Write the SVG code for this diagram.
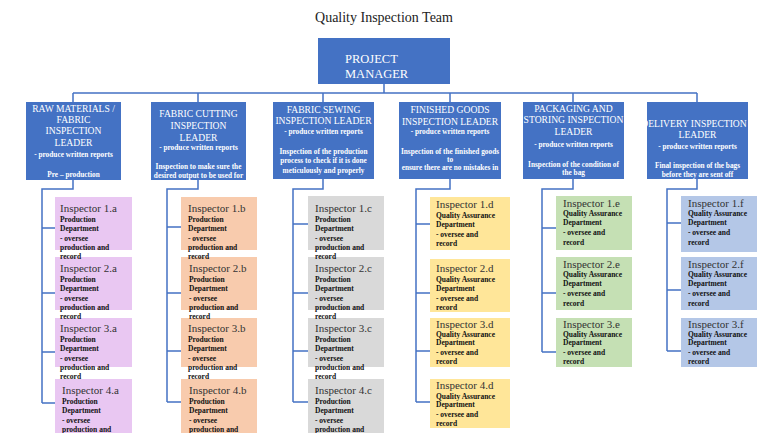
<svg xmlns="http://www.w3.org/2000/svg" width="768" height="433" viewBox="0 0 768 433">
<style>
.bg{fill:#ffffff}
.title{font-family:"Liberation Serif","Times New Roman",serif;font-size:14px;fill:#222}
.lead{fill:#4472C4}
.lh{font-family:"Liberation Serif","Times New Roman",serif;font-size:9.6px;fill:#fff;text-anchor:middle}
.ls{font-family:"Liberation Serif","Times New Roman",serif;font-size:7.3px;font-weight:bold;fill:#fff;text-anchor:middle}
.pm{font-family:"Liberation Serif","Times New Roman",serif;font-size:12.5px;fill:#fff}
.it{font-family:"Liberation Serif","Times New Roman",serif;font-size:11px;fill:#333}
.is{font-family:"Liberation Serif","Times New Roman",serif;font-size:7.5px;font-weight:bold;fill:#111}
.ca{fill:#E9C7F2}.cb{fill:#F8CBAD}.cc{fill:#D9D9D9}.cd{fill:#FFE699}.ce{fill:#C5E0B4}.cf{fill:#B4C7E7}
.con{fill:none;stroke:#4472C4;stroke-width:1.5}
</style>
<defs>
<clipPath id="k1"><rect x="26" y="102" width="95" height="78"/></clipPath>
<clipPath id="k2"><rect x="151" y="102" width="95" height="78"/></clipPath>
<clipPath id="k3"><rect x="273" y="102" width="101" height="77"/></clipPath>
<clipPath id="k4"><rect x="399" y="102" width="102" height="77"/></clipPath>
<clipPath id="k5"><rect x="523" y="102" width="101" height="77"/></clipPath>
<clipPath id="k6"><rect x="647" y="102" width="101" height="77"/></clipPath>
</defs>
<rect class="bg" x="0" y="0" width="768" height="433"/>
<text class="title" x="384" y="22" text-anchor="middle">Quality Inspection Team</text>

<g id="connectors">
<path class="con" d="M384 84V93M73 93H697M73 93V102M198 93V102M323 93V102M450 93V102M573 93V102M697 93V102"/>
<path class="con" d="M73 180V189H42V403M42 228H55M42 293H55M42 352H55M42 403H55"/>
<path class="con" d="M198 180V189H167V402M167 227H181M167 293H181M167 351H181M167 402H181"/>
<path class="con" d="M323 179V189H293V402M293 224H308M293 293H308M293 351H308M293 402H308"/>
<path class="con" d="M450 179V189H416V402M416 224H430M416 293H430M416 351H430M416 402H430"/>
<path class="con" d="M573 179V189H542V352M542 228H556M542 293H556M542 352H556"/>
<path class="con" d="M697 179V189H667V351M667 223H681M667 290H681M667 351H681"/>
</g>

<g id="pm">
<rect class="lead" x="318" y="38" width="132" height="46"/>
<text class="pm" x="345" y="63">PROJECT</text>
<text class="pm" x="345" y="78">MANAGER</text>
</g>

<g id="leader-a">
<rect class="lead" x="26" y="102" width="95" height="78"/>
<g clip-path="url(#k1)">
<text class="lh" x="73.5" y="112">RAW MATERIALS /</text>
<text class="lh" x="73.5" y="123">FABRIC</text>
<text class="lh" x="73.5" y="134">INSPECTION</text>
<text class="lh" x="73.5" y="146">LEADER</text>
<text class="ls" x="73.5" y="157">- produce written reports</text>
<text class="ls" x="73.5" y="177">Pre – production</text>
</g>
</g>
<g id="leader-b">
<rect class="lead" x="151" y="102" width="95" height="78"/>
<g clip-path="url(#k2)">
<text class="lh" x="198.5" y="117">FABRIC CUTTING</text>
<text class="lh" x="198.5" y="129">INSPECTION</text>
<text class="lh" x="198.5" y="141">LEADER</text>
<text class="ls" x="198.5" y="150">- produce written reports</text>
<text class="ls" x="198.5" y="169">Inspection to make sure the</text>
<text class="ls" x="198.5" y="178">desired output to be used for</text>
</g>
</g>
<g id="leader-c">
<rect class="lead" x="273" y="102" width="101" height="77"/>
<g clip-path="url(#k3)">
<text class="lh" x="323.5" y="113">FABRIC SEWING</text>
<text class="lh" x="323.5" y="124">INSPECTION LEADER</text>
<text class="ls" x="323.5" y="134">- produce written reports</text>
<text class="ls" x="323.5" y="154">Inspection of the production</text>
<text class="ls" x="323.5" y="163">process to check if it is done</text>
<text class="ls" x="323.5" y="173">meticulously and properly</text>
</g>
</g>
<g id="leader-d">
<rect class="lead" x="399" y="102" width="102" height="77"/>
<g clip-path="url(#k4)">
<text class="lh" x="450" y="113">FINISHED GOODS</text>
<text class="lh" x="450" y="125">INSPECTION LEADER</text>
<text class="ls" x="450" y="134">- produce written reports</text>
<text class="ls" x="450" y="154">Inspection of the finished goods</text>
<text class="ls" x="450" y="162">to</text>
<text class="ls" x="450" y="170">ensure there are no mistakes in</text>
</g>
</g>
<g id="leader-e">
<rect class="lead" x="523" y="102" width="101" height="77"/>
<g clip-path="url(#k5)">
<text class="lh" x="573.5" y="112">PACKAGING AND</text>
<text class="lh" x="573.5" y="123">STORING INSPECTION</text>
<text class="lh" x="573.5" y="135">LEADER</text>
<text class="ls" x="573.5" y="147">- produce written reports</text>
<text class="ls" x="573.5" y="167">Inspection of the condition of</text>
<text class="ls" x="573.5" y="175">the bag</text>
</g>
</g>
<g id="leader-f">
<rect class="lead" x="647" y="102" width="101" height="77"/>
<g clip-path="url(#k6)">
<text class="lh" x="694" y="127">DELIVERY INSPECTION</text>
<text class="lh" x="697.5" y="138">LEADER</text>
<text class="ls" x="697.5" y="149">- produce written reports</text>
<text class="ls" x="697.5" y="168">Final inspection of the bags</text>
<text class="ls" x="697.5" y="177">before they are sent off</text>
</g>
</g>

<!-- column a (drawn bottom-up so overflow text stays visible) -->
<g id="insp-4a"><rect class="ca" x="55" y="379" width="77" height="55"/>
<text class="it" x="62" y="394">Inspector 4.a</text><text class="is" x="62" y="404">Production</text><text class="is" x="62" y="413">Department</text><text class="is" x="62" y="423">- oversee</text><text class="is" x="62" y="432">production and</text></g>
<g id="insp-3a"><rect class="ca" x="55" y="318" width="77" height="49"/>
<text class="it" x="60" y="332">Inspector 3.a</text><text class="is" x="60" y="342">Production</text><text class="is" x="60" y="351">Department</text><text class="is" x="60" y="361">- oversee</text><text class="is" x="60" y="370">production and</text><text class="is" x="60" y="379">record</text></g>
<g id="insp-2a"><rect class="ca" x="55" y="257" width="77" height="53"/>
<text class="it" x="60" y="272">Inspector 2.a</text><text class="is" x="60" y="282">Production</text><text class="is" x="60" y="291">Department</text><text class="is" x="60" y="301">- oversee</text><text class="is" x="60" y="310">production and</text><text class="is" x="60" y="319">record</text></g>
<g id="insp-1a"><rect class="ca" x="55" y="197" width="77" height="53"/>
<text class="it" x="60" y="212">Inspector 1.a</text><text class="is" x="60" y="222">Production</text><text class="is" x="60" y="231">Department</text><text class="is" x="60" y="241">- oversee</text><text class="is" x="60" y="250">production and</text><text class="is" x="60" y="259">record</text></g>

<!-- column b -->
<g id="insp-4b"><rect class="cb" x="181" y="379" width="76" height="55"/>
<text class="it" x="189" y="394">Inspector 4.b</text><text class="is" x="189" y="404">Production</text><text class="is" x="189" y="413">Department</text><text class="is" x="189" y="423">- oversee</text><text class="is" x="189" y="432">production and</text></g>
<g id="insp-3b"><rect class="cb" x="181" y="318" width="76" height="49"/>
<text class="it" x="188" y="332">Inspector 3.b</text><text class="is" x="188" y="342">Production</text><text class="is" x="188" y="351">Department</text><text class="is" x="188" y="361">- oversee</text><text class="is" x="188" y="370">production and</text><text class="is" x="188" y="379">record</text></g>
<g id="insp-2b"><rect class="cb" x="181" y="257" width="76" height="53"/>
<text class="it" x="189" y="272">Inspector 2.b</text><text class="is" x="189" y="282">Production</text><text class="is" x="189" y="291">Department</text><text class="is" x="189" y="301">- oversee</text><text class="is" x="189" y="310">production and</text><text class="is" x="189" y="319">record</text></g>
<g id="insp-1b"><rect class="cb" x="181" y="197" width="76" height="53"/>
<text class="it" x="188" y="212">Inspector 1.b</text><text class="is" x="188" y="222">Production</text><text class="is" x="188" y="231">Department</text><text class="is" x="188" y="241">- oversee</text><text class="is" x="188" y="250">production and</text><text class="is" x="188" y="259">record</text></g>

<!-- column c -->
<g id="insp-4c"><rect class="cc" x="308" y="379" width="76" height="55"/>
<text class="it" x="315" y="394">Inspector 4.c</text><text class="is" x="315" y="404">Production</text><text class="is" x="315" y="413">Department</text><text class="is" x="315" y="423">- oversee</text><text class="is" x="315" y="432">production and</text></g>
<g id="insp-3c"><rect class="cc" x="308" y="318" width="76" height="49"/>
<text class="it" x="315" y="332">Inspector 3.c</text><text class="is" x="315" y="342">Production</text><text class="is" x="315" y="351">Department</text><text class="is" x="315" y="361">- oversee</text><text class="is" x="315" y="370">production and</text><text class="is" x="315" y="379">record</text></g>
<g id="insp-2c"><rect class="cc" x="308" y="257" width="76" height="53"/>
<text class="it" x="315" y="272">Inspector 2.c</text><text class="is" x="315" y="282">Production</text><text class="is" x="315" y="291">Department</text><text class="is" x="315" y="301">- oversee</text><text class="is" x="315" y="310">production and</text><text class="is" x="315" y="319">record</text></g>
<g id="insp-1c"><rect class="cc" x="308" y="196" width="76" height="54"/>
<text class="it" x="315" y="212">Inspector 1.c</text><text class="is" x="315" y="222">Production</text><text class="is" x="315" y="231">Department</text><text class="is" x="315" y="241">- oversee</text><text class="is" x="315" y="250">production and</text><text class="is" x="315" y="259">record</text></g>

<!-- column d -->
<g id="insp-1d"><rect class="cd" x="430" y="197" width="80" height="53"/>
<text class="it" x="436" y="208">Inspector 1.d</text><text class="is" x="436" y="218">Quality Assurance</text><text class="is" x="436" y="227">Department</text><text class="is" x="436" y="237">- oversee and</text><text class="is" x="436" y="246">record</text></g>
<g id="insp-2d"><rect class="cd" x="430" y="259" width="80" height="53"/>
<text class="it" x="436" y="272">Inspector 2.d</text><text class="is" x="436" y="282">Quality Assurance</text><text class="is" x="436" y="291">Department</text><text class="is" x="436" y="301">- oversee and</text><text class="is" x="436" y="310">record</text></g>
<g id="insp-3d"><rect class="cd" x="430" y="318" width="80" height="49"/>
<text class="it" x="436" y="328">Inspector 3.d</text><text class="is" x="436" y="337">Quality Assurance</text><text class="is" x="436" y="345">Department</text><text class="is" x="436" y="355">- oversee and</text><text class="is" x="436" y="364">record</text></g>
<g id="insp-4d"><rect class="cd" x="430" y="379" width="80" height="49"/>
<text class="it" x="436" y="389">Inspector 4.d</text><text class="is" x="436" y="399">Quality Assurance</text><text class="is" x="436" y="407">Department</text><text class="is" x="436" y="417">- oversee and</text><text class="is" x="436" y="426">record</text></g>

<!-- column e -->
<g id="insp-1e"><rect class="ce" x="556" y="196" width="76" height="54"/>
<text class="it" x="563" y="207">Inspector 1.e</text><text class="is" x="563" y="216">Quality Assurance</text><text class="is" x="563" y="225">Department</text><text class="is" x="563" y="235">- oversee and</text><text class="is" x="563" y="245">record</text></g>
<g id="insp-2e"><rect class="ce" x="556" y="257" width="76" height="53"/>
<text class="it" x="563" y="268">Inspector 2.e</text><text class="is" x="563" y="277">Quality Assurance</text><text class="is" x="563" y="286">Department</text><text class="is" x="563" y="296">- oversee and</text><text class="is" x="563" y="306">record</text></g>
<g id="insp-3e"><rect class="ce" x="556" y="318" width="76" height="49"/>
<text class="it" x="563" y="328">Inspector 3.e</text><text class="is" x="563" y="337">Quality Assurance</text><text class="is" x="563" y="345">Department</text><text class="is" x="563" y="355">- oversee and</text><text class="is" x="563" y="364">record</text></g>

<!-- column f -->
<g id="insp-1f"><rect class="cf" x="681" y="196" width="76" height="56"/>
<text class="it" x="688" y="207">Inspector 1.f</text><text class="is" x="688" y="216">Quality Assurance</text><text class="is" x="688" y="225">Department</text><text class="is" x="688" y="235">- oversee and</text><text class="is" x="688" y="245">record</text></g>
<g id="insp-2f"><rect class="cf" x="681" y="257" width="76" height="53"/>
<text class="it" x="688" y="268">Inspector 2.f</text><text class="is" x="688" y="277">Quality Assurance</text><text class="is" x="688" y="286">Department</text><text class="is" x="688" y="296">- oversee and</text><text class="is" x="688" y="306">record</text></g>
<g id="insp-3f"><rect class="cf" x="681" y="318" width="76" height="49"/>
<text class="it" x="688" y="328">Inspector 3.f</text><text class="is" x="688" y="337">Quality Assurance</text><text class="is" x="688" y="345">Department</text><text class="is" x="688" y="355">- oversee and</text><text class="is" x="688" y="364">record</text></g>
</svg>
